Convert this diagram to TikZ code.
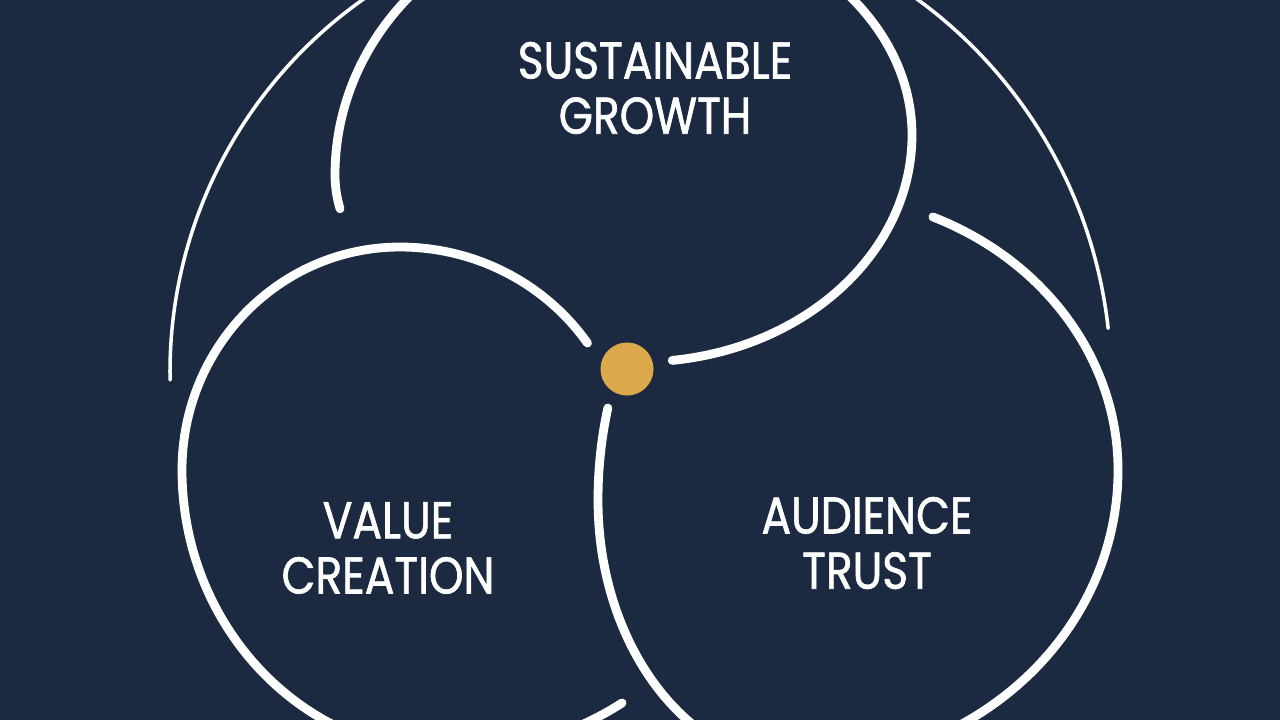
\documentclass[tikz,border=0pt]{standalone}
\usepackage{fontspec}
\setmainfont{Poppins}[FakeStretch=0.85, FakeBold=1.2]
\definecolor{navy}{HTML}{1B2A41}
\definecolor{gold}{HTML}{DCA84C}
\tikzset{
  ring/.style={white, line width=2.5pt, line cap=round},
  rim/.style={white, line width=1pt, line cap=round},
  ringtext/.style={text=white, align=center, font=\fontsize{14.7}{15.7}\selectfont},
  hub/.style={circle, fill=gold, minimum size=0.53cm, inner sep=0pt}
}
\begin{document}
\begin{tikzpicture}[x=0.01cm, y=-0.01cm]

	% frame
	\fill[navy] (0,0) rectangle (1280,720);
	\useasboundingbox (0,0) rectangle (1280,720);
	\clip (0,0) rectangle (1280,720);

	% outer arcs
	\draw[rim] (626,372) ++(179:456) arc[start angle=179, end angle=250, radius=456];
	\draw[rim] (640,380) ++(-6.3:471) arc[start angle=-6.3, end angle=-70, radius=471];

	% sustainable growth
	\draw[ring] (640,175) ++(169.6:305 and 187)
		arc[start angle=169.6, end angle=180, x radius=305, y radius=187]
		arc[start angle=180, end angle=270, x radius=285, y radius=265]
		arc[start angle=270, end angle=360, x radius=292, y radius=225]
		arc[start angle=0, end angle=83.2, x radius=272, y radius=227];

	% value creation
	\draw[ring] (400,470) ++(-34.7:228 and 223)
		arc[start angle=-34.7, end angle=-90, x radius=228, y radius=223]
		arc[start angle=-90, end angle=-180, x radius=218, y radius=223]
		arc[start angle=180, end angle=90, x radius=268, y radius=283]
		arc[start angle=90, end angle=55.4, x radius=303, y radius=283];

	% audience trust
	\draw[ring] (810,470) ++(-66.5:308 and 276)
		arc[start angle=-66.5, end angle=0, x radius=308, y radius=276]
		arc[start angle=0, end angle=90, x radius=318, y radius=295]
		arc[start angle=90, end angle=180, x radius=202, y radius=265]
		arc[start angle=180, end angle=197.5, x radius=212, y radius=306];

	% centre
	\node[hub] (hub) at (627,369) {};

	% labels
	\node[ringtext] (growth) at (655,88) {SUSTAINABLE\\GROWTH};
	\node[ringtext] (value) at (388,548) {VALUE\\CREATION};
	\node[ringtext] (trust) at (867,543) {AUDIENCE\\TRUST};

\end{tikzpicture}
\end{document}
